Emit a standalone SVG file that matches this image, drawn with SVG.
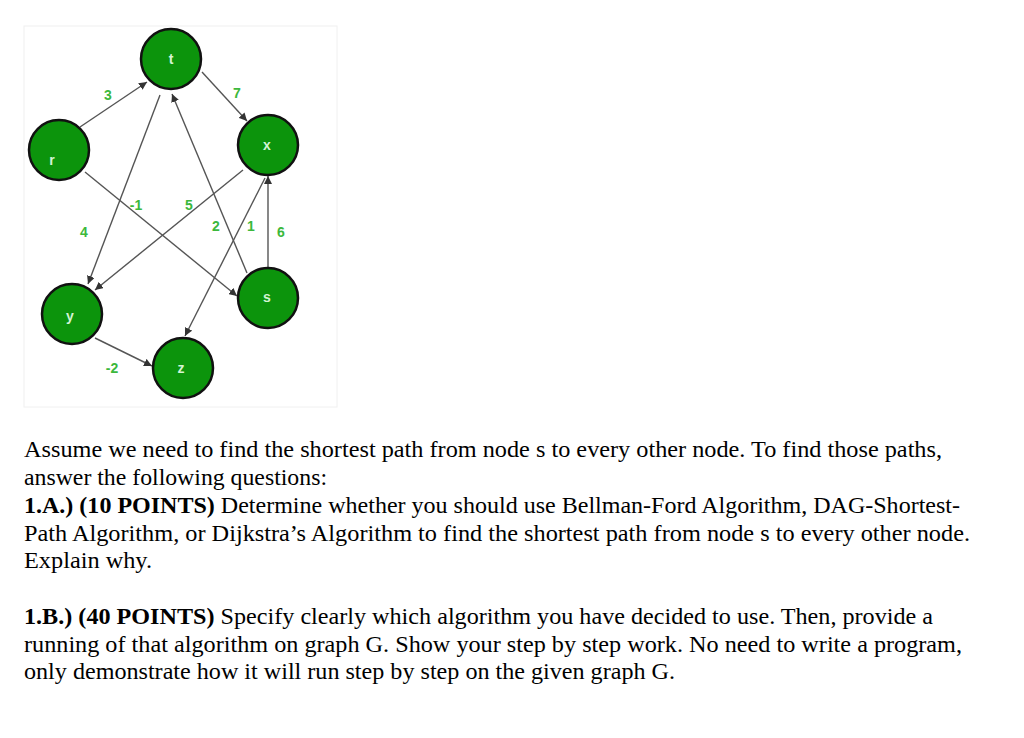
<svg xmlns="http://www.w3.org/2000/svg" width="1024" height="738" viewBox="0 0 1024 738">
<style>
.node circle{fill:#0c940c;stroke:#111;stroke-width:2.5}
.node text{font-family:"Liberation Sans",Arial,sans-serif;font-weight:bold;font-size:14px;fill:#d4f4d4;text-anchor:middle;dominant-baseline:central}
.edge{stroke:#555;stroke-width:1.4;fill:none;marker-end:url(#arr)}
.w{font-family:"Liberation Sans",Arial,sans-serif;font-weight:bold;font-size:14px;fill:#3cb83c;text-anchor:middle;dominant-baseline:central}
.t{font-family:"Liberation Serif","Times New Roman",serif;font-size:23.5px;fill:#000}
.b{font-weight:bold}
</style>
<defs>
<marker id="arr" viewBox="0 0 10 10" refX="10" refY="5" markerWidth="8" markerHeight="8" markerUnits="userSpaceOnUse" orient="auto">
<path d="M0,0 L10,5 L0,10 Z" fill="#333"/>
</marker>
</defs>
<rect x="0" y="0" width="1024" height="738" fill="#fff"/>
<rect x="24" y="26" width="313" height="381" fill="none" stroke="#f0f0f0" stroke-width="1"/>
<g id="connectors">
<line class="edge" x1="80" y1="127" x2="147" y2="82"/>
<line class="edge" x1="202" y1="72" x2="247" y2="121"/>
<line class="edge" x1="160" y1="95" x2="88" y2="284"/>
<line class="edge" x1="85" y1="172" x2="237" y2="296"/>
<line class="edge" x1="243" y1="170" x2="95" y2="290"/>
<line class="edge" x1="247" y1="273" x2="172" y2="94"/>
<line class="edge" x1="265" y1="178" x2="185" y2="336"/>
<line class="edge" x1="268" y1="268" x2="268" y2="176"/>
<line class="edge" x1="95" y1="338" x2="152" y2="366"/>
<text class="w" x="108" y="95">3</text>
<text class="w" x="237" y="93">7</text>
<text class="w" x="136" y="205">-1</text>
<text class="w" x="189" y="205">5</text>
<text class="w" x="84" y="232">4</text>
<text class="w" x="216" y="226">2</text>
<text class="w" x="251" y="226">1</text>
<text class="w" x="281" y="232">6</text>
<text class="w" x="112" y="368">-2</text>
</g>
<g id="node-t" class="node"><circle cx="171" cy="59" r="30"/><text x="171" y="59">t</text></g>
<g id="node-r" class="node"><circle cx="59" cy="150" r="30"/><text x="52" y="160">r</text></g>
<g id="node-x" class="node"><circle cx="268" cy="145" r="30"/><text x="267" y="145">x</text></g>
<g id="node-y" class="node"><circle cx="72" cy="314" r="30"/><text x="70" y="316">y</text></g>
<g id="node-s" class="node"><circle cx="268" cy="298" r="30"/><text x="267" y="297">s</text></g>
<g id="node-z" class="node"><circle cx="183" cy="368" r="30"/><text x="181" y="368">z</text></g>
<g id="question">
<text class="t" x="24" y="457" textLength="918" lengthAdjust="spacingAndGlyphs">Assume we need to find the shortest path from node s to every other node. To find those paths,</text>
<text class="t" x="24" y="485" textLength="303" lengthAdjust="spacingAndGlyphs">answer the following questions:</text>
<text class="t" x="24" y="513" textLength="936" lengthAdjust="spacingAndGlyphs"><tspan class="b">1.A.) (10 POINTS)</tspan> Determine whether you should use Bellman-Ford Algorithm, DAG-Shortest-</text>
<text class="t" x="24" y="541" textLength="946" lengthAdjust="spacingAndGlyphs">Path Algorithm, or Dijkstra’s Algorithm to find the shortest path from node s to every other node.</text>
<text class="t" x="24" y="568" textLength="128" lengthAdjust="spacingAndGlyphs">Explain why.</text>
<text class="t" x="24" y="624" textLength="909" lengthAdjust="spacingAndGlyphs"><tspan class="b">1.B.) (40 POINTS)</tspan> Specify clearly which algorithm you have decided to use. Then, provide a</text>
<text class="t" x="24" y="652" textLength="938" lengthAdjust="spacingAndGlyphs">running of that algorithm on graph G. Show your step by step work. No need to write a program,</text>
<text class="t" x="24" y="679" textLength="651" lengthAdjust="spacingAndGlyphs">only demonstrate how it will run step by step on the given graph G.</text>
</g>
</svg>
